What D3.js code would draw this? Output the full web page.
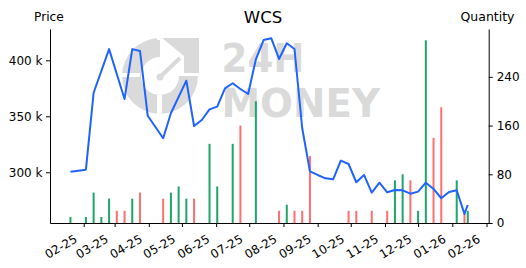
<!DOCTYPE html>
<html><head><meta charset="utf-8">
<script src="https://cdn.jsdelivr.net/npm/d3@7"></script>
<style>body{margin:0;background:#fff}svg{display:block;font-family:"DejaVu Sans",sans-serif}</style>
</head><body><svg id="c" width="526" height="268"></svg>
<script>
const title = "WCS";
const priceDates = ["2025-01-20","2025-02-03","2025-02-10","2025-02-24","2025-03-10","2025-03-17","2025-03-24","2025-03-31","2025-04-14","2025-04-21","2025-05-05","2025-05-12","2025-05-19","2025-05-26","2025-06-02","2025-06-09","2025-06-16","2025-06-23","2025-06-30","2025-07-07","2025-07-14","2025-07-21","2025-07-28","2025-08-04","2025-08-11","2025-08-18","2025-08-25","2025-09-01","2025-09-08","2025-09-15","2025-09-22","2025-09-29","2025-10-06","2025-10-13","2025-10-20","2025-10-27","2025-11-03","2025-11-10","2025-11-17","2025-11-24","2025-12-01","2025-12-08","2025-12-15","2025-12-22","2025-12-29","2026-01-05","2026-01-12","2026-01-15"];
const priceValues = [300500,302300,371000,410000,365400,410000,408300,350500,330400,352700,381800,341300,346700,356200,358600,375000,379500,374400,369900,400900,418100,419600,401200,415200,410100,339300,300800,297600,294600,293700,310400,307400,291100,297600,281800,290700,282100,284200,283900,280900,282700,290700,285100,276800,282400,283900,262800,270800];
const volumeDates = ["2025-01-20","2025-02-03","2025-02-10","2025-02-17","2025-02-24","2025-03-03","2025-03-10","2025-03-17","2025-03-24","2025-04-14","2025-04-21","2025-04-28","2025-05-05","2025-05-12","2025-05-26","2025-06-02","2025-06-16","2025-06-23","2025-07-07","2025-07-28","2025-08-04","2025-08-11","2025-08-18","2025-08-25","2025-09-29","2025-10-06","2025-10-20","2025-11-03","2025-11-10","2025-11-17","2025-11-24","2025-12-01","2025-12-08","2025-12-15","2025-12-22","2026-01-05","2026-01-12","2026-01-15"];
const volumeValues = [10,10,50,10,40,20,20,40,50,40,50,60,40,40,130,60,130,160,200,20,30,20,20,110,20,20,20,20,70,80,70,20,300,140,190,70,20,20];
const volumeDirection = ["up","up","up","up","up","down","down","up","down","down","up","up","up","down","up","up","up","down","up","down","up","down","down","down","down","down","down","down","up","up","down","up","up","down","down","up","down","up"];
const monthTicks = ["2025-02-01","2025-03-01","2025-04-01","2025-05-01","2025-06-01","2025-07-01","2025-08-01","2025-09-01","2025-10-01","2025-11-01","2025-12-01","2026-01-01","2026-02-01"];
const priceTicks = [300000,350000,400000];
const qtyTicks = [0,80,160,240];

const svg = d3.select("#c");
const L = 50, R = 488.7, T = 29, B = 223;
const parse = d3.utcParse("%Y-%m-%d");
const x = d3.scaleUtc().domain([new Date(Date.UTC(2025,0,1,11)), new Date(Date.UTC(2026,1,2,23,30))]).range([L,R]);
const yP = d3.scaleLinear().domain([254700,427950]).range([B,T]);
const yQ = d3.scaleLinear().domain([0,318.6]).range([B,T]);
const wm = "#dadada";

// watermark
const g0 = svg.append("g");
const cx = 160, cy = 76;
g0.append("path").attr("transform",`translate(${cx},${cy})`)
  .attr("d", d3.arc().innerRadius(19).outerRadius(38).startAngle(Math.PI/2).endAngle(2*Math.PI)()).attr("fill",wm);
g0.append("path").attr("d",`M162,38 L199,38 L199,73 L184,73 L184,56 Z`).attr("fill",wm);
g0.append("path").attr("d",`M162,38 L162,52 L176,52 Z`).attr("fill","#fff");
g0.append("line").attr("x1",cx).attr("y1",cy+1).attr("x2",180).attr("y2",58).attr("stroke",wm).attr("stroke-width",4);
g0.append("circle").attr("cx",cx).attr("cy",cy+1).attr("r",3.5).attr("fill",wm);
g0.append("rect").attr("x",118).attr("y",73).attr("width",22).attr("height",4).attr("fill","#fff");
g0.append("rect").attr("x",157).attr("y",36).attr("width",5).attr("height",4).attr("fill","#fff");
g0.append("rect").attr("x",157).attr("y",95).attr("width",5).attr("height",20).attr("fill","#fff");
g0.append("text").attr("x",221.5).attr("y",71.5).attr("font-size",39).attr("font-weight","bold").attr("fill",wm)
  .attr("textLength",83).attr("lengthAdjust","spacingAndGlyphs").text("24H");
g0.append("text").attr("x",221.5).attr("y",116.8).attr("font-size",39).attr("font-weight","bold").attr("fill",wm)
  .attr("textLength",158.5).attr("lengthAdjust","spacingAndGlyphs").text("MONEY");

// bars
const bars = volumeDates.map((d,i)=>({date:parse(d), v:volumeValues[i], dir:volumeDirection[i]}));
svg.append("g").selectAll("rect").data(bars).join("rect")
  .attr("x", d=>x(d.date)-1).attr("width",2)
  .attr("y", d=>yQ(d.v)).attr("height", d=>B - yQ(d.v))
  .attr("fill", d=>d.dir==="up" ? "#1fa56a" : "#ff6f6f");

// price line
const pts = priceDates.map((d,i)=>({date:parse(d), v:priceValues[i]}));
svg.append("path").datum(pts)
  .attr("d", d3.line().x(d=>x(d.date)).y(d=>yP(d.v)))
  .attr("fill","none").attr("stroke","#1f63ff").attr("stroke-width",2).attr("stroke-linejoin","round");

// axes
function style(g){
  g.selectAll(".domain").attr("stroke","#000").attr("stroke-width",1);
  g.selectAll(".tick line").attr("stroke","#000");
  g.selectAll("text").attr("fill","#000").attr("font-family","DejaVu Sans").attr("font-size",12);
}
const ax = svg.append("g").attr("transform",`translate(0,${B})`)
  .call(d3.axisBottom(x).tickValues(monthTicks.map(parse)).tickFormat(d3.utcFormat("%m-%y")).tickSize(4).tickSizeOuter(0));
style(ax);
ax.selectAll(".tick text").attr("text-anchor","end").attr("y",0).attr("dy",0)
  .attr("transform","translate(-6,18.5) rotate(-30)");

const al = svg.append("g").attr("transform",`translate(${L},0)`)
  .call(d3.axisLeft(yP).tickValues(priceTicks).tickFormat(d=>(d/1000)+" k").tickSize(4).tickSizeOuter(0));
style(al);
al.selectAll(".tick text").attr("x",-7.5);

const ar = svg.append("g").attr("transform",`translate(${R},0)`)
  .call(d3.axisRight(yQ).tickValues(qtyTicks).tickSize(4).tickSizeOuter(0));
style(ar);
ar.selectAll(".tick text").attr("x",8);

svg.append("text").attr("x",263).attr("y",23).attr("text-anchor","middle").attr("font-size",16.5).attr("fill","#000").text(title);
svg.append("text").attr("x",34).attr("y",20.5).attr("font-size",12.2).attr("fill","#000").text("Price");
svg.append("text").attr("x",460.5).attr("y",20.5).attr("font-size",12.5).attr("fill","#000").text("Quantity");
</script></body></html>
